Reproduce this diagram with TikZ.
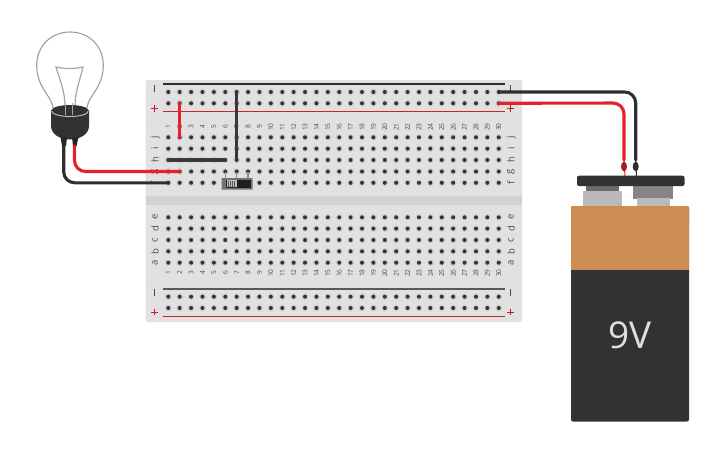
\documentclass[tikz,border=0pt]{standalone}
\usepackage{fontspec}
\setmainfont{Open Sans}
\definecolor{boardc}{HTML}{E1E1E1}
\definecolor{chanc}{HTML}{D2D2D2}
\definecolor{haloc}{HTML}{CDCDCD}
\definecolor{holec}{HTML}{333333}
\definecolor{wirer}{HTML}{E8202A}
\definecolor{wirek}{HTML}{2C2F31}
\definecolor{railr}{HTML}{C8252B}
\definecolor{labelc}{HTML}{4A4A4A}
\definecolor{orangec}{HTML}{CD8C52}
\definecolor{batk}{HTML}{323232}
\tikzset{
  wire/.style={line width=3.1pt,line cap=round,rounded corners=11pt},
  redwire/.style={wire,draw=wirer},
  blackwire/.style={wire,draw=wirek},
  rail/.style={line width=1.1pt},
  collabel/.style={rotate=90,font=\fontsize{6.6}{6.6}\selectfont,text=labelc,inner sep=0pt},
  rowlabel/.style={rotate=90,font=\fontsize{9.5}{9.5}\selectfont,text=labelc,inner sep=0pt},
  glass/.style={draw=black!38,line width=1.1pt,fill=none},
}
\begin{document}
\begin{tikzpicture}[x=1pt,y=-1pt]
\useasboundingbox (0,0) rectangle (725,453);
% board
\fill[boardc,rounded corners=2pt] (145.5,80) rectangle (522,322);
\fill[chanc] (145.5,196) rectangle (522,204.7);
\draw[white!88!black,line width=0.7pt] (145.5,120.7) -- (522,120.7);
\draw[white!88!black,line width=0.7pt] (145.5,280) -- (522,280);
% rail lines
\draw[rail,wirek] (163,84) -- (505,84);
\draw[rail,railr] (163,111.3) -- (505,111.3);
\draw[rail,black!65] (163,289) -- (505,289);
\draw[rail,railr] (163,316.3) -- (505,316.3);
% holes
\foreach \r/\y in {pa/92,pb/103.3,j/137.3,i/148.7,h/160,g/171.5,f/182.8,e/217.3,d/228.6,c/240,b/251.3,a/262.7,qa/296.7,qb/308}{
  \foreach \c in {1,...,30}{
    \coordinate (\r\c) at ({168.3+(\c-1)*11.395},\y);
    \fill[haloc] (\r\c) circle (3.3pt);
    \fill[holec] (\r\c) circle (2pt);
  }
}
% column numbers
\foreach \c in {1,...,30}{
  \node[collabel] (nt\c) at ({168.3+(\c-1)*11.395},127) {\c};
  \node[collabel] (nb\c) at ({168.3+(\c-1)*11.395},273) {\c};
}
% row letters
\foreach \l/\y in {j/137.3,i/148.7,h/160,g/171.5,f/182.8,e/217.3,d/228.6,c/240,b/251.3,a/262.7}{
  \node[rowlabel] (ll\l) at (155,\y) {\l};
  \node[rowlabel] (lr\l) at (511,\y) {\l};
}
% rail signs
\foreach \n/\x/\y in {a/154.5/88,b/510.5/88,c/154.5/292,d/510.5/292}{
  \fill[labelc] (\x-0.5,\y-3.5) rectangle (\x+0.5,\y+3.5);
}
\foreach \n/\x/\y in {a/154.5/108.5,b/510.5/108.5,c/154.5/312,d/510.5/312}{
  \draw[wirer!85!black,line width=0.9pt] (\x-3.3,\y) -- (\x+3.3,\y) (\x,\y-3.3) -- (\x,\y+3.3);
}
% bulb glass
\draw[glass] (53,108) .. controls (52,96) and (37,88) .. (36.7,66)
  .. controls (36.5,45) and (52,32) .. (70,32)
  .. controls (88,32) and (103.5,45) .. (103.3,66)
  .. controls (103,88) and (88,96) .. (87,108);
\draw[draw=black!35,line width=1.2pt] (65,106) .. controls (65,92) and (60,80) .. (56,67)
  .. controls (65,69) and (75,69) .. (83,67)
  .. controls (80,80) and (75,92) .. (75,106);
% bulb base
\fill[batk] (51,110) -- (51,126) .. controls (51,134) and (60,139.5) .. (70,139.5)
  .. controls (80,139.5) and (89,134) .. (89,126) -- (89,110) -- cycle;
\fill[black!85] (60.5,137) -- (67,137) -- (66,146) -- (62,146) -- cycle;
\fill[black!85] (72,137) -- (78.5,137) -- (76.5,146) -- (73,146) -- cycle;
\fill[batk] (70,110.5) ellipse (18.5pt and 5.5pt);
\draw[black!22,line width=0.9pt] (51.7,111) arc (180:360:18.3pt and 5.5pt);
\draw[black!35,line width=1pt] (65,103) -- (65,115) (72,103) -- (72,115);
% switch pins and body
\foreach \c in {6,7,8}{
  \draw[black!45,line width=1.2pt] (g\c) -- ++(0,7);
}
\fill[black!55,rounded corners=0.5pt] (221.5,178) rectangle (252.5,189.5);
\fill[black!88] (225.5,179.5) rectangle (251,187.5);
\fill[black!25] (226.5,180) rectangle (236.5,187);
\foreach \x in {228,230,232,234}{
  \draw[black!65,line width=0.7pt] (\x,180.5) -- (\x,186.5);
}
% board jumpers
\draw[redwire] (pb2) -- (j2);
\draw[blackwire,draw=black!78] (pa7) -- (h7);
\draw[blackwire,draw=black!78] (h1) -- (h6);
% bulb wires
\coordinate (bulbk) at (63.7,146);
\coordinate (bulbr) at (74.5,146);
\draw[redwire] (bulbr) -- (74.5,171.5) -- (g2);
\draw[blackwire] (bulbk) -- (63.7,182.8) -- (f1);
% battery
\fill[black!58] (585.5,185) rectangle (619,192);
\fill[black!27] (582.5,191) rectangle (622,207);
\fill[black!48] (633,185) rectangle (673,198.5);
\fill[black!27] (636.5,198) rectangle (670,207);
\fill[batk,rounded corners=2pt] (577,175.7) rectangle (684.5,186);
\fill[batk,rounded corners=2pt] (571,206) rectangle (689,421.5);
\fill[orangec,rounded corners=2pt] (571,206) rectangle (689,225);
\fill[orangec] (571,215) rectangle (689,270);
\node[font=\fontsize{37}{37}\selectfont,text=black!12,inner sep=0pt] (nineV) at (630,335) {9V};
% battery clips and wires
\coordinate (clipr) at (624,160);
\coordinate (clipk) at (635.7,160);
\draw[railr,line width=1pt] (clipr) -- (625,176);
\draw[wirek,line width=1pt] (clipk) -- (636.5,176);
\fill[railr!80!black] (624,166.5) ellipse (3pt and 4.8pt);
\fill[wirek] (635.7,166.5) ellipse (3pt and 4.8pt);
\draw[redwire] (pb30) -- (624,103) -- (clipr);
\draw[blackwire] (pa30) -- (635.7,92) -- (clipk);
\end{tikzpicture}
\end{document}
